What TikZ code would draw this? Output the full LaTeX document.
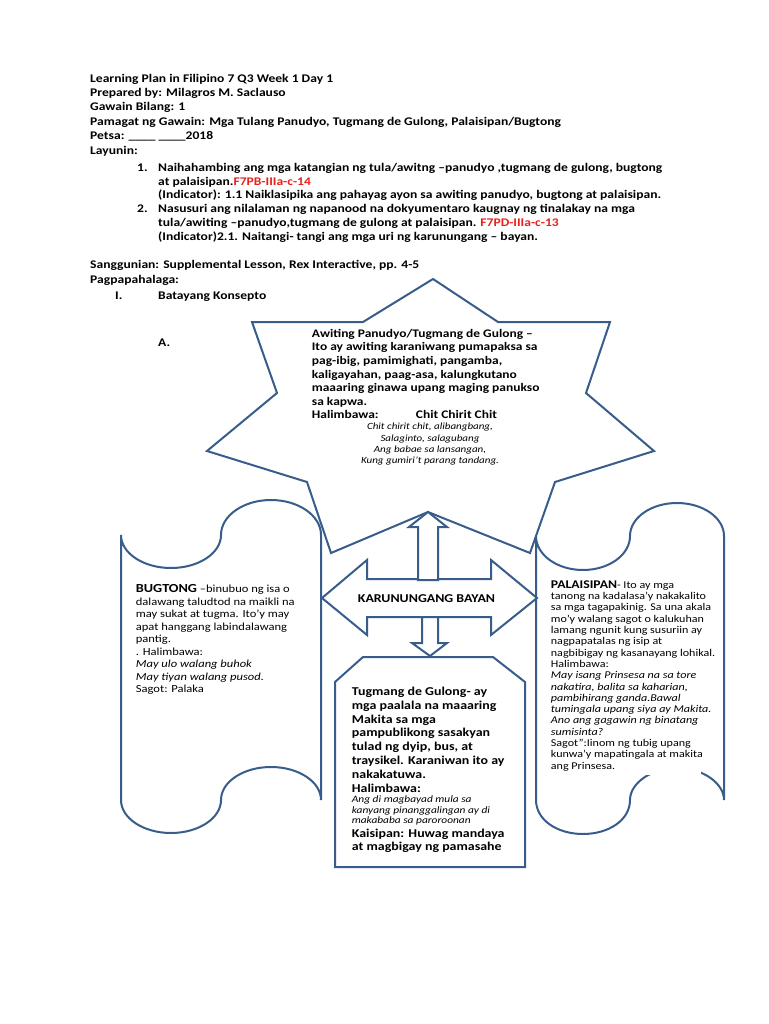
\documentclass[tikz,border=0pt]{standalone}
\usepackage{fontspec}
\setmainfont{Carlito}[FakeStretch=1.16]
\definecolor{shapeblue}{HTML}{385D8A}
\definecolor{codered}{HTML}{E8201C}
\begin{document}
\begin{tikzpicture}[x=1pt,y=-1pt,
  outl/.style={draw=shapeblue, line width=2pt, line join=miter},
  arrowshape/.style={outl, fill=white},
  hdr/.style={anchor=base west, inner sep=0pt, font=\fontsize{11.7}{14}\selectfont\bfseries},
  startxt/.style={anchor=base west, inner sep=0pt, font=\fontsize{11.6}{14}\selectfont\bfseries},
  starit/.style={anchor=base, inner sep=0pt, font=\fontsize{9.5}{11}\selectfont\itshape},
  bugtxt/.style={anchor=base west, inner sep=0pt, font=\fontsize{10.8}{13}\selectfont},
  paltxt/.style={anchor=base west, inner sep=0pt, font=\fontsize{10.4}{12}\selectfont},
  midtxt/.style={anchor=base west, inner sep=0pt, font=\fontsize{12}{14}\selectfont\bfseries},
  midit/.style={anchor=base west, inner sep=0pt, font=\fontsize{9.8}{11}\selectfont\itshape},
  labtxt/.style={inner sep=0pt, font=\fontsize{12}{13}\selectfont\bfseries}
]
\fill[white] (0,0) rectangle (768,1024);
\useasboundingbox (0,0) rectangle (768,1024);

% ---------- header ----------
\node[hdr] (h1) at (90,82.5) {Learning Plan in Filipino 7 Q3 Week 1 Day 1};
\node[hdr] (h2) at (90,96.8) {Prepared by: Milagros M. Saclauso};
\node[hdr] (h3) at (90,110.8) {Gawain Bilang: 1};
\node[hdr] (h4) at (90,125.2) {Pamagat ng Gawain: Mga Tulang Panudyo, Tugmang de Gulong, Palaisipan/Bugtong};
\node[hdr] (h5) at (90,139.5) {Petsa: \_\_\_\_ \_\_\_\_2018};
\node[hdr] (h6) at (90,154.2) {Layunin:};
\node[hdr] (n1) at (137,171.2) {1.};
\node[hdr] (h7) at (158,171.2) {Naihahambing ang mga katangian ng tula/awitng –panudyo ,tugmang de gulong, bugtong};
\node[hdr] (h8) at (158,185.2) {at palaisipan.{\color{codered}F7PB-IIIa-c-14}};
\node[hdr] (h9) at (158,198.8) {(Indicator): 1.1 Naiklasipika ang pahayag ayon sa awiting panudyo, bugtong at palaisipan.};
\node[hdr] (n2) at (137,212.8) {2.};
\node[hdr] (h10) at (158,212.8) {Nasusuri ang nilalaman ng napanood na dokyumentaro kaugnay ng tinalakay na mga};
\node[hdr] (h11) at (158,226.8) {tula/awiting –panudyo,tugmang de gulong at palaisipan. {\color{codered}F7PD-IIIa-c-13}};
\node[hdr] (h12) at (158,240.2) {(Indicator)2.1. Naitangi- tangi ang mga uri ng karunungang – bayan.};
\node[hdr] (h13) at (90,268.8) {Sanggunian: Supplemental Lesson, Rex Interactive, pp. 4-5};
\node[hdr] (h14) at (90,283.5) {Pagpapahalaga:};
\node[hdr] (nI) at (115,299.5) {I.};
\node[hdr] (h15) at (158,299.5) {Batayang Konsepto};
\node[hdr] (nA) at (158,346.8) {A.};

% ---------- star ----------
\draw[outl] (433,279) -- (363,322) -- (252,322) -- (277,393) -- (207,451) -- (307,482)
  -- (331,553) -- (428,512) -- (530,553) -- (555,482) -- (654,451) -- (586,393)
  -- (610,322) -- (498,322) -- cycle;

\foreach \t [count=\i from 0] in {
  {Awiting Panudyo/Tugmang de Gulong –},
  {Ito ay awiting karaniwang pumapaksa sa},
  {pag-ibig, pamimighati, pangamba,},
  {kaligayahan, paag-asa, kalungkutano},
  {maaaring ginawa upang maging panukso},
  {sa kapwa.},
  {Halimbawa:}}
  \node[startxt] (st\i) at (311.7,337.3+13.6*\i) {\t};
\node[startxt] (sttitle) at (415.7,418.9) {Chit Chirit Chit};
\foreach \t [count=\i from 0] in {
  {Chit chirit chit, alibangbang,},
  {Salaginto, salagubang},
  {Ang babae sa lansangan,},
  {Kung gumiri't parang tandang.}}
  \node[starit] (si\i) at (430,429.7+11.3*\i) {\t};

% ---------- left scroll (BUGTONG) ----------
\draw[outl] (121,535)
  .. controls (121,553.2) and (143.4,568) .. (171,568)
  .. controls (198.6,568) and (221,553.2) .. (221,535)
  .. controls (221,515.7) and (243.4,500) .. (271,500)
  .. controls (298.6,500) and (321,515.7) .. (321,535)
  -- (321,800)
  .. controls (321,781.8) and (298.6,767) .. (271,767)
  .. controls (243.4,767) and (221,781.8) .. (221,800)
  .. controls (221,818.2) and (198.6,833) .. (171,833)
  .. controls (143.4,833) and (121,818.2) .. (121,800)
  -- cycle;
\foreach \t [count=\i from 0] in {
  {{\fontsize{12.3}{13}\selectfont\bfseries BUGTONG} –binubuo ng isa o},
  {dalawang taludtod na maikli na},
  {may sukat at tugma. Ito’y  may},
  {apat  hanggang labindalawang},
  {pantig.},
  {. Halimbawa:},
  {\itshape May ulo walang buhok},
  {\itshape May tiyan walang pusod.},
  {Sagot: Palaka}}
  \node[bugtxt] (bg\i) at (135.7,592.8+12.5*\i) {\t};

% ---------- right scroll (PALAISIPAN) ----------
\draw[outl] (536,536)
  .. controls (536,554.8) and (557,570) .. (583,570)
  .. controls (609,570) and (630,554.8) .. (630,536)
  .. controls (630,517.8) and (651,503) .. (677,503)
  .. controls (703,503) and (724,517.8) .. (724,536)
  -- (724,800)
  .. controls (724,783.4) and (703,768) .. (677,768)
  .. controls (651,768) and (630,783.4) .. (630,800)
  .. controls (630,819.9) and (609,834) .. (583,834)
  .. controls (557,834) and (536,819.9) .. (536,800)
  -- cycle;
\fill[white] (545,574) rectangle (701,775);
\foreach \t [count=\i from 0] in {
  {{\fontsize{11.8}{13}\selectfont\bfseries PALAISIPAN}- Ito ay mga},
  {tanong na kadalasa’y nakakalito},
  {sa mga tagapakinig. Sa una akala},
  {mo’y walang sagot o kalukuhan},
  {lamang ngunit kung susuriin ay},
  {nagpapatalas ng isip at},
  {nagbibigay ng kasanayang lohikal.},
  {Halimbawa:},
  {\itshape May isang Prinsesa na sa tore},
  {\itshape nakatira, balita sa kaharian,},
  {\itshape pambihirang ganda.Bawal},
  {\itshape tumingala upang siya ay Makita.},
  {\itshape Ano ang gagawin ng binatang},
  {\itshape sumisinta?},
  {Sagot”:Iinom ng tubig upang},
  {kunwa’y mapatingala at makita},
  {ang Prinsesa.}}
  \node[paltxt] (pl\i) at (550.7,588.3+11.3*\i) {\t};

% ---------- middle box ----------
\draw[outl] (335,682) -- (363,657) -- (493,657) -- (525,682) -- (525,867) -- (335,867) -- cycle;
\foreach \t [count=\i from 0] in {
  {Tugmang de Gulong- ay},
  {mga paalala na maaaring},
  {Makita sa mga},
  {pampublikong sasakyan},
  {tulad ng dyip, bus, at},
  {traysikel. Karaniwan ito ay},
  {nakakatuwa.},
  {Halimbawa:}}
  \node[midtxt] (md\i) at (351.7,695.5+13.8*\i) {\t};
\foreach \t [count=\i from 0] in {
  {Ang di magbayad mula sa},
  {kanyang pinanggalingan ay di},
  {makababa sa paroroonan}}
  \node[midit] (mi\i) at (351.7,802.3+10.7*\i) {\t};
\node[midtxt] (mk1) at (351.7,837.3) {Kaisipan: Huwag mandaya};
\node[midtxt] (mk2) at (351.7,850.5) {at magbigay ng pamasahe};

% ---------- arrows ----------
\draw[arrowshape] (322,598) -- (367,560) -- (367,579) -- (491,579) -- (491,560) -- (537,598)
  -- (491,635) -- (491,617) -- (367,617) -- (367,635) -- cycle;
\draw[arrowshape] (428,512) -- (447,527) -- (438,527) -- (438,580) -- (418,580) -- (418,527) -- (409,527) -- cycle;
\draw[arrowshape] (422,617) -- (438,617) -- (438,643) -- (447,643) -- (430,656) -- (412,643) -- (422,643) -- cycle;
\node[labtxt] (kb) at (426.5,599) {KARUNUNGANG BAYAN};
\end{tikzpicture}
\end{document}
